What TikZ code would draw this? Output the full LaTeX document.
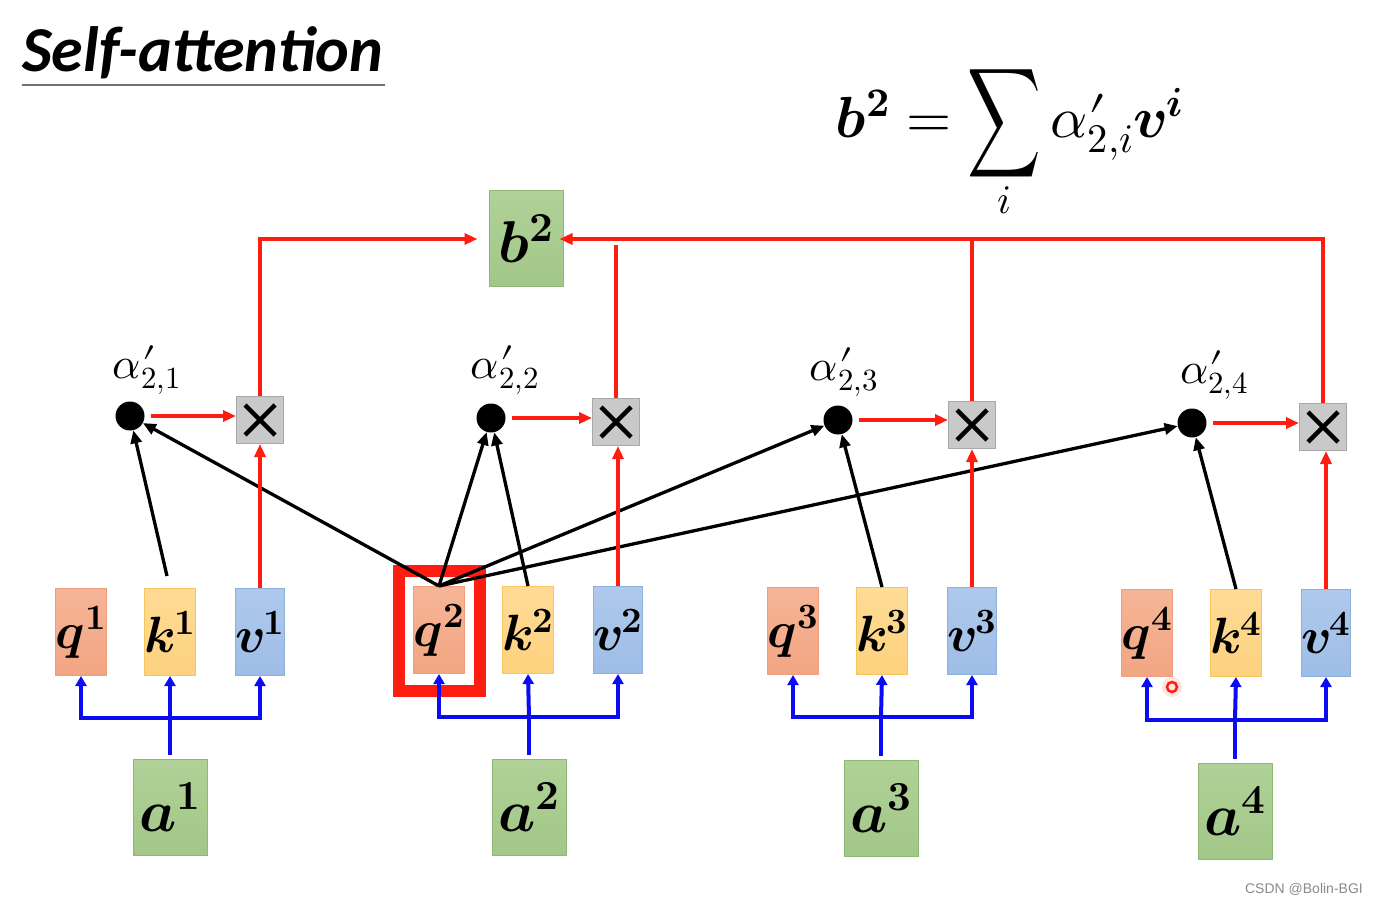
\documentclass[tikz,border=0pt]{standalone}
\usepackage{fontspec}
\usepackage{unicode-math}
\setmathfont{latinmodern-math.otf}
\newfontfamily\titlefont{Carlito}
\newfontfamily\wmfont{Liberation Sans}
\usetikzlibrary{arrows.meta}
\definecolor{qtop}{HTML}{F6B597}\definecolor{qbot}{HTML}{F2A583}\definecolor{qline}{HTML}{EE9E7E}
\definecolor{ktop}{HTML}{FFDB96}\definecolor{kbot}{HTML}{FDD27E}\definecolor{kline}{HTML}{F6C65C}
\definecolor{vtop}{HTML}{AEC9EC}\definecolor{vbot}{HTML}{9EBDE6}\definecolor{vline}{HTML}{8EB0DD}
\definecolor{gtop}{HTML}{B0D197}\definecolor{gbot}{HTML}{A2C788}\definecolor{gline}{HTML}{8DB875}
\definecolor{mfill}{HTML}{C9C9C9}\definecolor{mline}{HTML}{A8A8A8}
\definecolor{redl}{HTML}{FF1C10}\definecolor{bluel}{HTML}{0C0CF2}
\definecolor{ulgray}{HTML}{707070}\definecolor{wmgray}{HTML}{8A8A8A}
\newcommand\alp[1]{\alpha\rlap{\kern1pt$\prime$}_{#1}}
\newcommand\bigsum{\mathop{\vcenter{\hbox{\scalebox{0.88}[1.32]{$\displaystyle\sum$}}}}\limits}
\begin{document}
\begin{tikzpicture}[x=1pt,y=-1pt,
 cell/.style={rectangle, inner sep=0pt, line width=1pt, minimum width=48pt, minimum height=87pt, font=\fontsize{51}{58}\selectfont},
 qcell/.style={cell, draw=qline, top color=qtop, bottom color=qbot},
 kcell/.style={cell, draw=kline, top color=ktop, bottom color=kbot},
 vcell/.style={cell, draw=vline, top color=vtop, bottom color=vbot},
 gcell/.style={rectangle, inner sep=0pt, line width=1pt, minimum width=74pt, minimum height=96pt, draw=gline, top color=gtop, bottom color=gbot, font=\fontsize{59}{66}\selectfont},
 dotnode/.style={circle, fill=black, minimum size=29pt, inner sep=0pt},
 mult/.style={rectangle, draw=mline, fill=mfill, line width=1pt, minimum size=47pt, inner sep=0pt,
   path picture={\draw[draw=black, line width=4.5pt] (path picture bounding box.center) ++(-15,-15) -- ++(30,30)
     (path picture bounding box.center) ++(-15,15) -- ++(30,-30);}},
 alab/.style={inner sep=0pt, font=\fontsize{44}{50}\selectfont},
 redarr/.style={draw=redl, line width=3.3pt, -{Triangle[length=13pt,width=11pt]}},
 redline/.style={draw=redl, line width=3.3pt},
 blkarr/.style={draw=black, line width=3.3pt, -{Triangle[length=13pt,width=11pt]}},
 bluearr/.style={draw=bluel, line width=4pt, -{Triangle[length=10pt,width=11pt]}},
 blueline/.style={draw=bluel, line width=4pt},
 hlframe/.style={rectangle, draw=redl, line width=12pt, minimum width=81pt, minimum height=120pt, inner sep=0pt},
]
\fill[white] (0,0) rectangle (1377,904);
\useasboundingbox (0,0) rectangle (1377,904);

% title
\node[anchor=base west, inner sep=0pt, font=\titlefont\bfseries\itshape\fontsize{64}{70}\selectfont] (title) at (22,72) {Self-attention};
\coordinate (ul1) at (22,85);
\coordinate (ul2) at (385,85);
\draw[ulgray, line width=2pt] (ul1) -- (ul2);

% formula
\node[anchor=base west, inner sep=0pt, font=\fontsize{58}{66}\selectfont] (formula) at (835,138)
  {$\displaystyle \symbfit{b}^{\symbf{2}} = \bigsum_{i} \alp{2,i}\symbfit{v}^{\symbfit{i}}$};

% highlight frame
\node[hlframe] (hl) at (439.5,631) {};

% q k v cells
\node[qcell] (q1) at (81,632) {$\symbfit{q}^{\symbf{1}}$};
\node[kcell] (k1) at (170,632) {$\symbfit{k}^{\symbf{1}}$};
\node[vcell] (v1) at (260,632) {$\symbfit{v}^{\symbf{1}}$};
\node[qcell] (q2) at (439,630) {$\symbfit{q}^{\symbf{2}}$};
\node[kcell] (k2) at (528,630) {$\symbfit{k}^{\symbf{2}}$};
\node[vcell] (v2) at (618,630) {$\symbfit{v}^{\symbf{2}}$};
\node[qcell] (q3) at (793,631) {$\symbfit{q}^{\symbf{3}}$};
\node[kcell] (k3) at (882,631) {$\symbfit{k}^{\symbf{3}}$};
\node[vcell] (v3) at (972,631) {$\symbfit{v}^{\symbf{3}}$};
\node[qcell] (q4) at (1147,633) {$\symbfit{q}^{\symbf{4}}$};
\node[kcell] (k4) at (1236,633) {$\symbfit{k}^{\symbf{4}}$};
\node[vcell] (v4) at (1326,633) {$\symbfit{v}^{\symbf{4}}$};

% a cells and b2
\node[gcell] (a1) at (170,807) {$\symbfit{a}^{\symbf{1}}$};
\node[gcell] (a2) at (529,807) {$\symbfit{a}^{\symbf{2}}$};
\node[gcell] (a3) at (881,808) {$\symbfit{a}^{\symbf{3}}$};
\node[gcell] (a4) at (1235,811) {$\symbfit{a}^{\symbf{4}}$};
\node[gcell] (b2) at (526,239) {$\symbfit{b}^{\symbf{2}}$};

% dots, labels, multipliers
\node[dotnode] (d1) at (130,416) {};
\node[dotnode] (d2) at (491,418) {};
\node[dotnode] (d3) at (838,420) {};
\node[dotnode] (d4) at (1192,423) {};
\node[alab] (l1) at (147,370) {$\alp{2,1}$};
\node[alab] (l2) at (505,370) {$\alp{2,2}$};
\node[alab] (l3) at (844,372) {$\alp{2,3}$};
\node[alab] (l4) at (1214,375) {$\alp{2,4}$};
\node[mult] (m1) at (260,420) {};
\node[mult] (m2) at (616,422) {};
\node[mult] (m3) at (972,425) {};
\node[mult] (m4) at (1323,427) {};

% blue input connectors
\coordinate (h1) at (170,718);
\coordinate (h2) at (529,717);
\coordinate (h3) at (881,717);
\coordinate (h4) at (1235,720);
\foreach \g in {1,2,3,4}{
  \draw[blueline, shorten <=4pt] (a\g.north) -- (h\g);
  \draw[bluearr] (h\g) -| (q\g.south);
  \draw[bluearr] (h\g) -| (v\g.south);
  \draw[bluearr] (h\g) -- (k\g.south);
}

% black score arrows
\draw[blkarr] ([xshift=-3pt,yshift=12pt]k1.north) -- (d1);
\draw[blkarr] (q2.north) -- (d1);
\draw[blkarr] (q2.north) -- (d2);
\draw[blkarr] (k2.north) -- (d2);
\draw[blkarr] (q2.north) -- (d3);
\draw[blkarr] (q2.north) -- (d4);
\draw[blkarr] (k3.north) -- (d3);
\draw[blkarr] (k4.north) -- (d4);

% red weighting arrows
\foreach \g in {1,2,3,4}{
  \draw[redarr, shorten <=6pt] (d\g.east) -- (d\g.east -| m\g.west);
  \draw[redarr] (v\g.north) -- (v\g.north |- m\g.south);
}
\coordinate (t2) at (616,245);
\draw[redarr, shorten >=11pt] (m1.north) |- (b2.west);
\draw[redline] (m2.north) -- (t2);
\draw[redline] (m3.north) -- (m3.north |- b2.east);
\draw[redarr, shorten >=-4pt] (m4.north) |- (b2.east);

% cursor mark
\fill[redl!12] (1172,687) circle (10);
\node[circle, draw=redl, line width=2.5pt, minimum size=10pt, inner sep=0pt] (cursor) at (1172,687) {};

% watermark
\node[anchor=base east, inner sep=0pt, text=wmgray, font=\wmfont\fontsize{14}{16}\selectfont] (wm) at (1363,893) {CSDN @Bolin-BGI};
\end{tikzpicture}
\end{document}
